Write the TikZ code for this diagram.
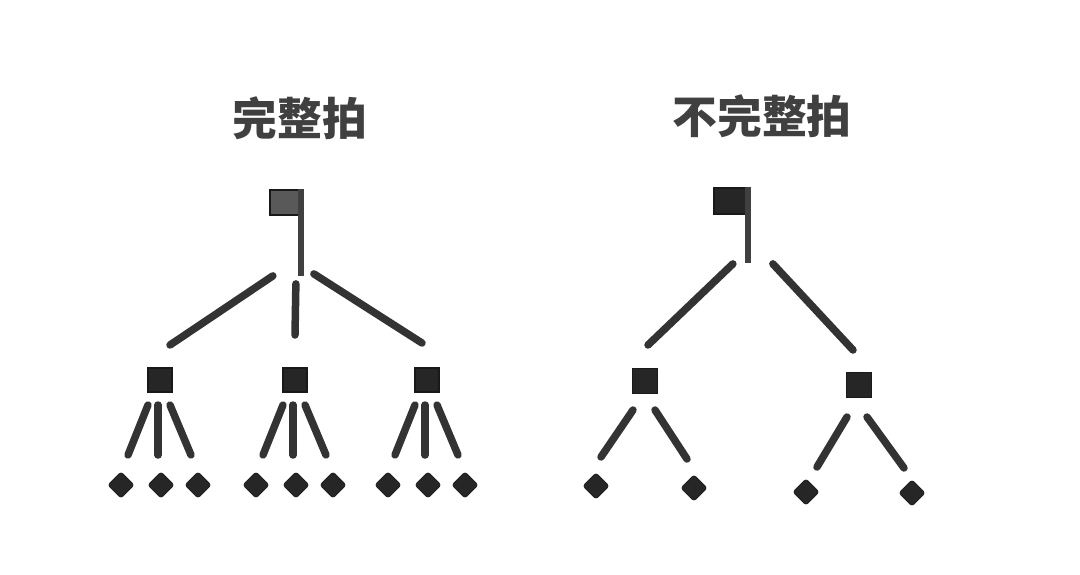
\documentclass[tikz,border=0pt]{standalone}
\usepackage{fontspec}
\newfontfamily\cjk{Noto Sans CJK SC}
\usetikzlibrary{positioning}
\newcommand{\px}{0.02cm}

\begin{document}
\begin{tikzpicture}[x=0.02cm, y=-0.02cm,
                    title/.style={font=\cjk\bfseries\fontsize{25.5pt}{30pt}\selectfont, text=black!75},
                    beat/.style={draw=black!90, fill=black!85, line width=1pt, inner sep=0pt, minimum size=24*\px},
                    note/.style={draw=black!90, fill=black!85, rounded corners=1.5pt, inner sep=0pt, minimum size=18.5*\px, rotate=45},
                    branch/.style={draw=black!80, line width=7.5*\px, line cap=round},
                    stem/.style={draw=black!75, line width=6*\px}]
    \useasboundingbox (0,0) rectangle (1080,575);
    \node[title] (titleA) at (300,118) {完整拍};
    \node[title] (titleB) at (762,116) {不完整拍};

    \node[beat, minimum width=33*\px, minimum height=25*\px, fill=black!65] (barA) at (286.5,202.5) {};
    \coordinate (footA) at ([shift={(-3,60)}]barA.south east);
    \draw[stem] ([shift={(-3,0)}]barA.north east) -- (footA);
    \node[beat] (midA1) at (160,380) {};
    \node[beat] (midA2) at (295,380) {};
    \node[beat] (midA3) at (427,380) {};
    \draw[branch] ([shift={(-28,0)}]footA) -- ([shift={(10,-35)}]midA1.center);
    \draw[branch] ([shift={(-5,8)}]footA) -- ([shift={(0,-45)}]midA2.center);
    \draw[branch] ([shift={(13,-2)}]footA) -- ([shift={(-5,-37)}]midA3.center);
    \foreach \g in {1,2,3} {
        \foreach \k/\dx/\sx/\ex in {1/-39/-12/7, 2/1/-2/-3, 3/38/10/-7} {
            \node[note] (leafA\g\k) at ([shift={(\dx,105)}]midA\g.center) {};
            \draw[branch] ([shift={(\sx,25)}]midA\g.center) -- ([shift={(\ex,-30)}]leafA\g\k.center);
        }
    }

    \node[beat, minimum width=36*\px, minimum height=26*\px] (barB) at (732,201) {};
    \coordinate (footB) at ([shift={(-3,48)}]barB.south east);
    \draw[stem] ([shift={(-3,0)}]barB.north east) -- (footB);
    \node[beat, minimum size=25*\px] (midB1) at (645,381) {};
    \node[beat, minimum size=25*\px] (midB2) at (859,385) {};
    \draw[branch] ([shift={(-15,1)}]footB) -- ([shift={(3,-36)}]midB1.center);
    \draw[branch] ([shift={(25,1)}]footB) -- ([shift={(-6,-35)}]midB2.center);
    \node[note] (leafB11) at (596,486) {};
    \node[note] (leafB12) at (694,488) {};
    \node[note] (leafB21) at (806,492) {};
    \node[note] (leafB22) at (912,493) {};
    \draw[branch] ([shift={(-12,29)}]midB1.center) -- ([shift={(5,-29)}]leafB11.center);
    \draw[branch] ([shift={(10,29)}]midB1.center) -- ([shift={(-7,-29)}]leafB12.center);
    \draw[branch] ([shift={(-12,32)}]midB2.center) -- ([shift={(11,-25)}]leafB21.center);
    \draw[branch] ([shift={(8,32)}]midB2.center) -- ([shift={(-8,-25)}]leafB22.center);
\end{tikzpicture}
\end{document}
